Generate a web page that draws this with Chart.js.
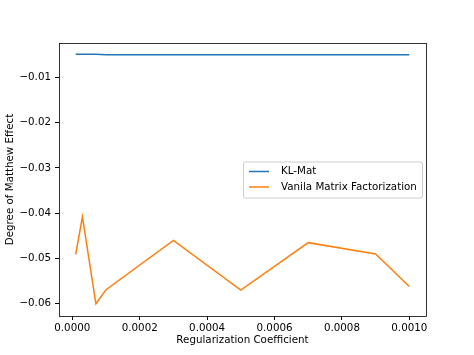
<!DOCTYPE html>
<html><head><meta charset="utf-8">
<script src="https://cdn.jsdelivr.net/npm/chart.js@4"></script>
<style>html,body{margin:0;padding:0;background:#fff}#wrap{width:474px;height:355px}</style>
</head><body><div id="wrap"><canvas id="c" width="474" height="355"></canvas></div>
<script>
const xValues = [0.00001, 0.00003, 0.00007, 0.0001, 0.0003, 0.0005, 0.0007, 0.0009, 0.001];
const klMat = [-0.0049, -0.0049, -0.0049, -0.0050, -0.0050, -0.0050, -0.0050, -0.0050, -0.0050];
const vanilaMF = [-0.0491, -0.0408, -0.0600, -0.0569, -0.0460, -0.0570, -0.0465, -0.0490, -0.0562];
const seriesNames = ["KL-Mat", "Vanila Matrix Factorization"];
const xTitle = "Regularization Coefficient";
const yTitle = "Degree of Matthew Effect";

const FONT = "'DejaVu Sans', sans-serif";
const FS = 10.3;
const pts = ys => xValues.map((x, i) => ({x, y: ys[i]}));

const frameLegend = {
  id: 'frameLegend',
  afterDraw(chart) {
    const {ctx, chartArea: a} = chart;
    ctx.save();
    ctx.strokeStyle = '#000';
    ctx.lineWidth = 0.8;
    ctx.strokeRect(a.left + 0.5, a.top + 0.5, a.right - a.left, a.bottom - a.top);
    const w = 179, h = 36;
    const lx = a.right - 4 - w, ly = (a.top + a.bottom) / 2 - h / 2;
    ctx.fillStyle = 'rgba(255,255,255,0.8)';
    ctx.strokeStyle = '#cccccc';
    ctx.lineWidth = 1;
    ctx.beginPath();
    ctx.roundRect(lx + 0.5, ly + 0.5, w, h, 2);
    ctx.fill(); ctx.stroke();
    ctx.font = FS + 'px ' + FONT;
    ctx.textBaseline = 'middle';
    chart.data.datasets.forEach((ds, i) => {
      const yy = ly + 10 + i * 15.5;
      ctx.strokeStyle = ds.borderColor;
      ctx.lineWidth = 1.5;
      ctx.beginPath(); ctx.moveTo(lx + 6, yy); ctx.lineTo(lx + 26, yy); ctx.stroke();
      ctx.fillStyle = '#000';
      ctx.fillText(ds.label, lx + 38, yy);
    });
    ctx.restore();
  }
};

new Chart(document.getElementById('c'), {
  type: 'scatter',
  data: {
    datasets: [
      {label: seriesNames[0], data: pts(klMat), showLine: true, borderColor: '#1f77b4', backgroundColor: '#1f77b4', borderWidth: 1.5, pointRadius: 0, tension: 0},
      {label: seriesNames[1], data: pts(vanilaMF), showLine: true, borderColor: '#ff7f0e', backgroundColor: '#ff7f0e', borderWidth: 1.5, pointRadius: 0, tension: 0}
    ]
  },
  options: {
    responsive: false,
    animation: false,
    events: [],
    layout: {padding: {top: 43, right: 48, left: 0, bottom: 0}},
    plugins: {legend: {display: false}, tooltip: {enabled: false}},
    scales: {
      x: {
        type: 'linear', min: -0.0000395, max: 0.0010495,
        afterBuildTicks(s) { s.ticks = [0, 0.0002, 0.0004, 0.0006, 0.0008, 0.001].map(v => ({value: v})); },
        afterFit(s) { s.height = 39; },
        grid: {display: true, drawOnChartArea: false, tickLength: 4, tickColor: '#000', color: '#000'},
        border: {display: false},
        ticks: {color: '#000', font: {family: FONT, size: FS}, padding: 2, maxRotation: 0,
          callback: v => v.toFixed(4)},
        title: {display: true, text: xTitle, color: '#000', font: {family: FONT, size: FS}, padding: {top: 2, bottom: 8}}
      },
      y: {
        type: 'linear', min: -0.0627, max: -0.0024,
        afterBuildTicks(s) { s.ticks = [-0.06, -0.05, -0.04, -0.03, -0.02, -0.01].map(v => ({value: v})); },
        afterFit(s) { s.width = 59; },
        grid: {display: true, drawOnChartArea: false, tickLength: 4, tickColor: '#000', color: '#000'},
        border: {display: false},
        ticks: {color: '#000', font: {family: FONT, size: FS}, padding: 4,
          callback: v => (v < 0 ? '\u2212' : '') + Math.abs(v).toFixed(2)},
        title: {display: true, text: yTitle, color: '#000', font: {family: FONT, size: FS}, padding: {top: 4, bottom: 2}}
      }
    }
  },
  plugins: [frameLegend]
});
</script></body></html>
